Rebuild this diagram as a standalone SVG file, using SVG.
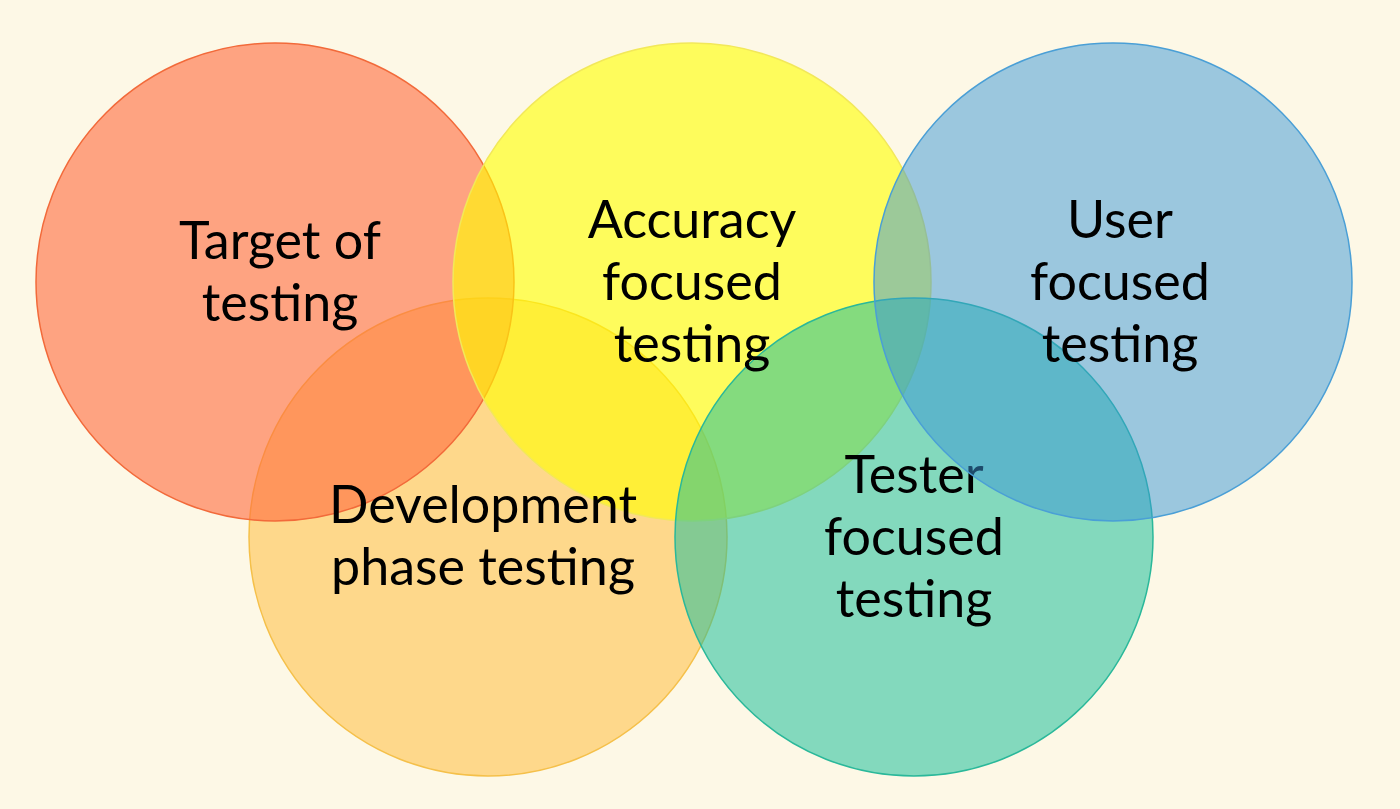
<svg xmlns="http://www.w3.org/2000/svg" width="1400" height="809" viewBox="0 0 1400 809">
<style>
text{font-family:Lato,"Open Sans",sans-serif;font-size:52px;fill:#000;text-anchor:middle}
circle{stroke-width:1.5}
</style>
<rect width="1400" height="809" fill="#fdf8e6"/>
<g id="development"><circle cx="488" cy="537" r="239" fill="#ffb830" fill-opacity="0.5" stroke="#f5c04a"/></g>
<g id="target"><circle cx="275" cy="282" r="239" fill="#ff6a3d" fill-opacity="0.6" stroke="#f26a3a"/></g>
<g id="accuracy"><circle cx="692" cy="282" r="239" fill="#ffff00" fill-opacity="0.6" stroke="#f2e85a"/></g>
<g id="tester"><circle cx="914" cy="537" r="239" fill="#1fc09a" fill-opacity="0.55" stroke="#2ab89a"/>
<text x="914" y="493">Tester</text><text x="914" y="555">focused</text><text x="914" y="617">testing</text></g>
<g id="user"><circle cx="1113" cy="282" r="239" fill="#3a96d6" fill-opacity="0.5" stroke="#4a9fd6"/>
<text x="1120" y="238">User</text><text x="1120" y="300">focused</text><text x="1120" y="362">testing</text></g>
<g id="labels">
<text x="280" y="259">Target of</text><text x="280" y="321">testing</text>
<text x="692" y="238">Accuracy</text><text x="692" y="300">focused</text><text x="692" y="362">testing</text>
<text x="483" y="523">Development</text><text x="483" y="585">phase testing</text>
</g>
<g id="connectors"/>
</svg>
